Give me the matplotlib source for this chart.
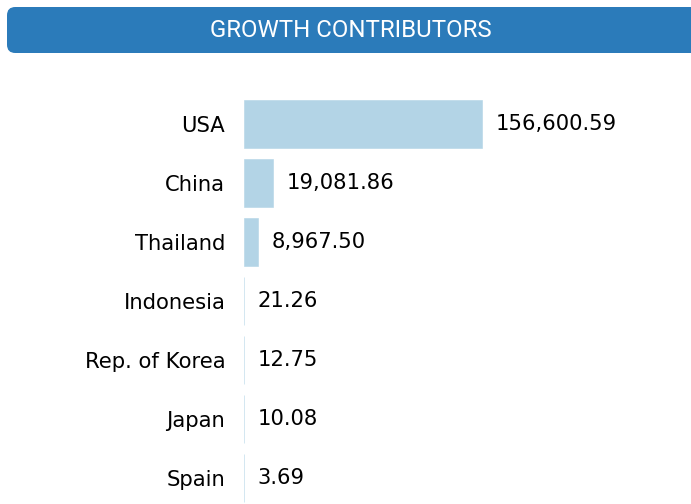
import matplotlib
matplotlib.use("Agg")
import matplotlib.pyplot as plt
from matplotlib.patches import FancyBboxPatch

categories = ["USA", "China", "Thailand", "Indonesia", "Rep. of Korea", "Japan", "Spain"]
values = [156600.59, 19081.86, 8967.50, 21.26, 12.75, 10.08, 3.69]
title = "GROWTH CONTRIBUTORS"

W, H = 691, 504
fig = plt.figure(figsize=(W / 100, H / 100), dpi=100)

# banner
banner = FancyBboxPatch((7 / W, 1 - 53 / H), (W + 10 - 7) / W, 46 / H,
                        boxstyle="round,pad=0,rounding_size=0.012",
                        transform=fig.transFigure, facecolor="#2b7bba",
                        edgecolor="none", mutation_aspect=W / H)
fig.patches.append(banner)
fig.text(350.5 / W, 1 - 30.5 / H, title, color="white", fontsize=17.3,
         family="Roboto", ha="center", va="center")

ax_left = 244 / W
ax_top = 94.5 / H
ax = fig.add_axes([ax_left, 0, 1 - ax_left, 1 - ax_top])
ypos = list(range(len(categories)))
ax.barh(ypos, values, height=0.81, color="#b3d4e6", edgecolor="#b3d4e6", linewidth=0.4)
xmax = values[0] * (W - 244) / 238
ax.set_xlim(0, xmax)
ax.set_ylim((504 - 124) / 59, -0.5)
ax.set_yticks(ypos)
ax.set_yticklabels(categories, fontsize=15.2)
ax.tick_params(axis="y", length=0, pad=13.5)
ax.set_xticks([])
for s in ax.spines.values():
    s.set_visible(False)
for y, v in zip(ypos, values):
    ax.annotate(f"{v:,.2f}", xy=(v, y), xytext=(10, 0), textcoords="offset points",
                fontsize=15.2, va="center", ha="left")

fig.savefig("out.png", dpi=100)
